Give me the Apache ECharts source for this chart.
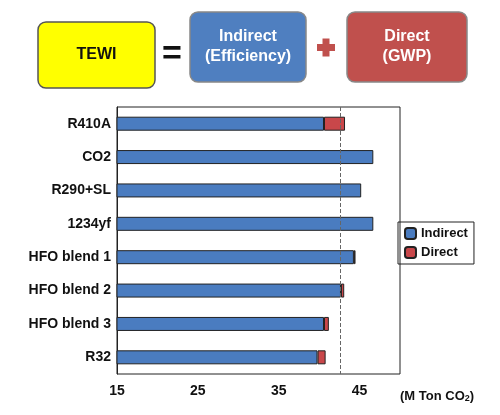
<!DOCTYPE html>
<html><head><meta charset="utf-8">
<script src="https://cdn.jsdelivr.net/npm/echarts@6/dist/echarts.min.js"></script>
<style>html,body{margin:0;padding:0;background:#fff}#c{width:500px;height:415px}</style>
</head><body><div id="c"></div>
<script>
const categories = ['R410A','CO2','R290+SL','1234yf','HFO blend 1','HFO blend 2','HFO blend 3','R32'];
const indirect = [40.6, 46.7, 45.2, 46.7, 44.3, 42.7, 40.6, 39.8];
const direct = [2.6, 0, 0, 0, 0.2, 0.4, 0.6, 1.0];
const refLine = 42.6;
const xTicks = [15, 25, 35, 45];

const chart = echarts.init(document.getElementById('c'));
const F = 'Liberation Sans, Arial, sans-serif';
function box(x, y, w, h, fill, stroke, lines, color) {
  return [{type:'rect', shape:{x, y, width:w, height:h, r:8}, style:{fill, stroke, lineWidth:1.5}},
    {type:'text', x:x+w/2, y:y+h/2, style:{text:lines, fill:color, font:'bold 16px '+F, align:'center', verticalAlign:'middle', lineHeight:20}}];
}
chart.setOption({
  animation:false,
  grid:{left:117, right:100, top:107, bottom:41, show:true, borderColor:'#222', borderWidth:1},
  legend:{orient:'vertical', left:398, top:222, itemWidth:11, itemHeight:11, itemGap:6, padding:[5,6,5,6],
    borderColor:'#222', borderWidth:1, textStyle:{fontFamily:F, fontWeight:'bold', fontSize:13, color:'#111'},
    data:['Indirect','Direct']},
  xAxis:{type:'value', min:15, max:50, interval:10,
    axisLine:{lineStyle:{color:'#222'}}, axisTick:{length:5, lineStyle:{color:'#222'}},
    splitLine:{show:false},
    axisLabel:{fontFamily:F, fontWeight:'bold', fontSize:14, color:'#111', margin:10,
      formatter:v => xTicks.includes(v) ? String(v) : ''}},
  yAxis:{type:'category', data:categories, inverse:true,
    axisLine:{lineStyle:{color:'#222'}}, axisTick:{inside:true, length:5, lineStyle:{color:'#222'}},
    axisLabel:{fontFamily:F, fontWeight:'bold', fontSize:14, color:'#111', margin:6}},
  series:[
    {name:'Indirect', type:'bar', stack:'t', data:indirect, barWidth:14,
      itemStyle:{color:'#4a7cc0', borderColor:'#222', borderWidth:1},
      markLine:{silent:true, symbol:'none', label:{show:false},
        lineStyle:{color:'#666', type:'dashed', width:1}, data:[{xAxis:refLine}]}},
    {name:'Direct', type:'bar', stack:'t', data:direct.map(v => v > 0 ? v : null), barWidth:14,
      itemStyle:{color:'#c9474a', borderColor:'#222', borderWidth:1}}
  ],
  graphic:[
    ...box(38, 22, 117, 66, '#ffff00', '#555', 'TEWI', '#111'),
    {type:'text', x:172, y:55, style:{text:'=', fill:'#111', font:'bold 34px '+F, align:'center', verticalAlign:'middle'}},
    ...box(190, 12, 116, 70, '#4f7fc0', '#888', 'Indirect\n(Efficiency)', '#fff'),
    {type:'rect', shape:{x:317, y:44, width:18, height:7}, style:{fill:'#c0504d'}},
    {type:'rect', shape:{x:322.5, y:38.5, width:7, height:18}, style:{fill:'#c0504d'}},
    ...box(347, 12, 120, 70, '#c0504d', '#888', 'Direct\n(GWP)', '#fff'),
    {type:'text', x:400, y:396, style:{rich:{a:{font:'bold 13px '+F, fill:'#111'}, s:{font:'bold 9px '+F, fill:'#111', padding:[6,0,0,0]}},
      text:'{a|(M Ton CO}{s|2}{a|)}', verticalAlign:'middle'}}
  ]
});
</script></body></html>
